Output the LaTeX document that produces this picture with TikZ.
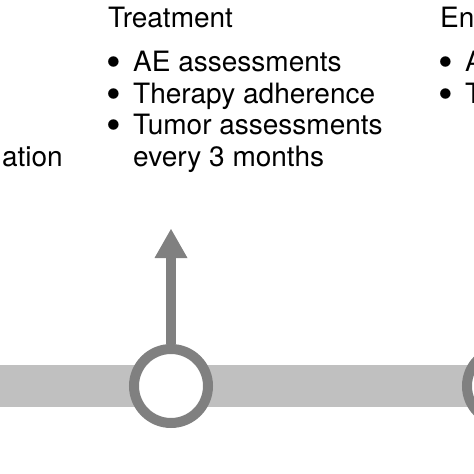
\documentclass[tikz,border=0pt]{standalone}
\usepackage{fontspec}
\setmainfont{TeX Gyre Heros}
\usetikzlibrary{arrows.meta}
\definecolor{barGray}{RGB}{192,192,192}
\definecolor{markGray}{RGB}{128,128,128}
\newcommand{\itemdot}{\makebox[27pt][l]{\raisebox{-5pt}{\fontsize{42}{42}\selectfont\textbullet}}}

\begin{document}
\begin{tikzpicture}[x = 1pt, y = -1pt,
  every node/.style = {inner sep = 0pt, font = \fontsize{28}{33}\selectfont},
  visit/.style = {circle, draw = markGray, line width = 10pt, fill = white, minimum size = 74pt},
  pointer/.style = {draw = markGray, line width = 10pt,
    -{Triangle[width = 33pt, length = 29pt, line width = 0pt]}}]

  \useasboundingbox (0, 0) rectangle (474, 474);
  \clip (0, 0) rectangle (474, 474);

  % Drawing of the timeline
  \fill[barGray] (-10, 365) rectangle (484, 407);
  \node[visit] (start) at (171, 386) {};
  \node[visit] (finish) at (504, 386) {};
  \coordinate (arrowtop) at (171, 229);
  \draw[pointer] (start.north) -- (arrowtop);

  % previous step
  \node[anchor = base east] (prev) at (63, 166) {ation};

  % Treatment
  \begin{scope}[shift = {(106, 0)}]
    \node[anchor = base west] (treat) at (2, 27) {Treatment};
    \node[anchor = base west] (ae) at (0, 71) {\itemdot AE assessments};
    \node[anchor = base west] (adh) at (0, 103) {\itemdot Therapy adherence};
    \node[anchor = base west] (tumor) at (0, 134) {\itemdot Tumor assessments};
    \node[anchor = base west] (tumor2) at (27, 166) {every 3 months};
  \end{scope} % Treatment

  % next step
  \begin{scope}[shift = {(438, 0)}]
    \node[anchor = base west] (next) at (2, 27) {En};
    \node[anchor = base west] (na) at (0, 71) {\itemdot A};
    \node[anchor = base west] (nt) at (0, 103) {\itemdot T};
  \end{scope} % next step

\end{tikzpicture}
\end{document}
